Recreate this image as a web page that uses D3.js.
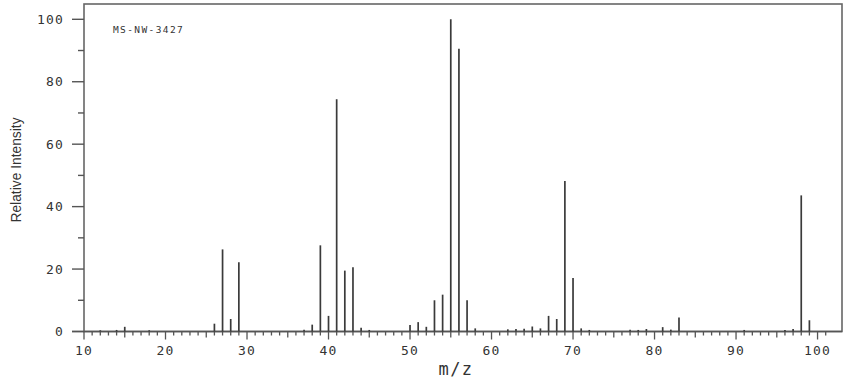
<!DOCTYPE html>
<html><head><meta charset="utf-8">
<script src="https://cdn.jsdelivr.net/npm/d3@7"></script>
<style>body{margin:0;background:#fff}svg{display:block}</style>
</head><body>
<svg id="c" width="848" height="380"></svg>
<script>
const mz =        [12, 14, 15, 18, 26, 27, 28, 29, 37, 38, 39, 40, 41, 42, 43, 44, 45, 50, 51, 52, 53, 54, 55, 56, 57, 58, 62, 63, 64, 65, 66, 67, 68, 69, 70, 71, 72, 77, 78, 79, 81, 82, 83, 91, 96, 97, 98, 99];
const intensity = [0.4,0.5,1.5,0.4,2.5,26.3,4,22.2,0.6,2.2,27.6,5,74.4,19.5,20.6,1.2,0.5,2.1,3,1.5,10,11.8,100,90.6,10,1,0.7,0.8,0.9,1.6,1,5,4,48.2,17.1,1,0.5,0.6,0.5,0.8,1.4,0.6,4.5,0.5,0.5,0.8,43.6,3.6];
const xTickLabels = [10,20,30,40,50,60,70,80,90,100];
const yTickLabels = [0,20,40,60,80,100];
const xTitle = "m/z", yTitle = "Relative Intensity", tag = "MS-NW-3427";

const svg = d3.select("#c");
const x = d3.scaleLinear().domain([10,103]).range([84,842]);
const y = d3.scaleLinear().domain([0,104.9]).range([331.5,4]);
const axisCol = "#555";

svg.append("rect").attr("x",x(10)).attr("y",y(104.9)).attr("width",x(103)-x(10)).attr("height",y(0)-y(104.9))
  .attr("fill","none").attr("stroke","#666").attr("stroke-width",1.6);

svg.append("line").attr("x1",72).attr("x2",x(103)).attr("y1",y(0)).attr("y2",y(0)).attr("stroke",axisCol).attr("stroke-width",1.6);
const xt = d3.range(10,102);
svg.append("g").selectAll("line").data(xt).join("line")
  .attr("x1",d=>x(d)).attr("x2",d=>x(d)).attr("y1",y(0))
  .attr("y2",d=> y(0) + (d%10===0?8:(d%5===0?6:4)))
  .attr("stroke",axisCol).attr("stroke-width",1.3);
svg.append("g").selectAll("text").data(xTickLabels).join("text")
  .attr("x",d=>x(d)).attr("y",355).attr("text-anchor","middle")
  .attr("font-family","DejaVu Sans Mono").attr("font-size",13).attr("letter-spacing",1.2)
  .attr("fill","#333").text(d=>d);

const yt = d3.range(0,101,10);
svg.append("g").selectAll("line").data(yt).join("line")
  .attr("x1",d=> d%20===0?72:78).attr("x2",x(10)).attr("y1",d=>y(d)).attr("y2",d=>y(d))
  .attr("stroke",axisCol).attr("stroke-width",1.4);
svg.append("g").selectAll("text").data(yTickLabels).join("text")
  .attr("x",64).attr("y",d=>y(d)+4.5).attr("text-anchor","end")
  .attr("font-family","DejaVu Sans Mono").attr("font-size",13).attr("letter-spacing",1.2)
  .attr("fill","#333").text(d=>d);

svg.append("g").selectAll("line").data(mz.map((m,i)=>[m,intensity[i]])).join("line")
  .attr("x1",d=>x(d[0])).attr("x2",d=>x(d[0])).attr("y1",y(0)).attr("y2",d=>y(d[1]))
  .attr("stroke","#3a3a3a").attr("stroke-width",1.7);

svg.append("text").attr("x",456).attr("y",375).attr("text-anchor","middle")
  .attr("font-family","DejaVu Sans Mono").attr("font-size",17).attr("letter-spacing",1.5)
  .attr("fill","#333").text(xTitle);
svg.append("text").attr("text-anchor","middle")
  .attr("font-family","Liberation Sans").attr("font-size",15).attr("fill","#333")
  .attr("transform","translate(21,170) rotate(-90) scale(0.92,1)").text(yTitle);
svg.append("text").attr("x",113).attr("y",33)
  .attr("font-family","DejaVu Sans Mono").attr("font-size",9.5).attr("letter-spacing",1.4)
  .attr("fill","#333").text(tag);
</script>
</body></html>
